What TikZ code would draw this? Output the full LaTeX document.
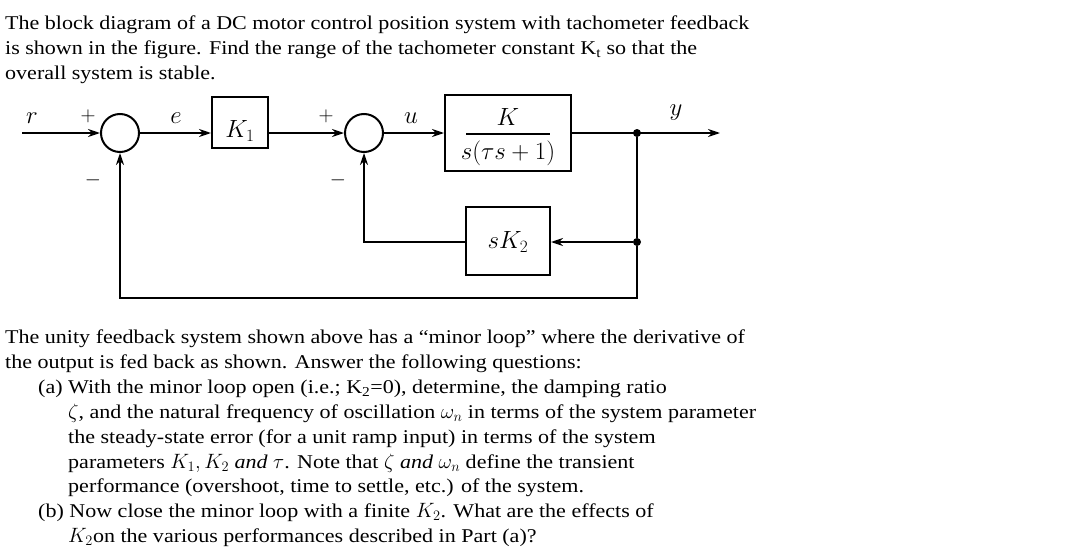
\documentclass[tikz,border=0pt]{standalone}
\usepackage{amsmath,amssymb}
\usepackage{fontspec}
\setmainfont{Liberation Serif}[FakeStretch=1.13]
\usetikzlibrary{positioning,arrows.meta}
\tikzset{
  blk/.style={draw, line width=2pt, minimum width=56pt, minimum height=51pt, inner sep=0pt},
  sumj/.style={draw, line width=2pt, circle, minimum size=38pt, inner sep=0pt},
  lbl/.style={font=\fontsize{26}{26}\selectfont\itshape},
  sgn/.style={font=\fontsize{21}{21}\selectfont},
  txt/.style={anchor=base west, inner sep=0pt, font=\fontsize{19.5}{19.5}\selectfont},
  sig/.style={line width=1.6pt, -{Stealth[length=12pt,width=8pt]}},
  dot/.style={circle, fill, inner sep=0pt, minimum size=8pt}
}
\begin{document}
\begin{tikzpicture}[x=1pt, y=-1pt]
      \useasboundingbox (0,0) rectangle (1087,554);
      % top text
      \node[txt] (t1) at (5,29) {The block diagram of a DC motor control position system with tachometer feedback};
      \node[txt] (t2) at (5,54) {is shown in the figure. Find the range of the tachometer constant K\textsubscript{t} so that the};
      \node[txt] (t3) at (5,79) {overall system is stable.};

      % blocks
      \coordinate (in) at (22,133);
      \node[sumj] (s1) at (120,133) {};
      \node[blk] (k1) at (240,122) {};
      \node[lbl] at (240,131) {$K_1$};
      \node[sumj] (s2) at (364,133) {};
      \node[blk, minimum width=126pt, minimum height=76pt] (g) at (508,133) {};
      \node[lbl] (gn) at (508,117) {$K$};
      \node[lbl] (gd) at (508,153) {$s(\tau s+1)$};
      \draw[line width=1.6pt] (466,134) -- (550,134);
      \node[blk, minimum width=84pt, minimum height=68pt] (h) at (508,241) {};
      \node[lbl] at (508,242) {$sK_2$};
      \node[dot] (d1) at (637,133) {};
      \node[dot] (d2) at (637,242) {};
      \coordinate (out) at (720,133);

      % signal labels
      \node[lbl] at (32,118) {$r$};
      \node[sgn] at (88,116) {$+$};
      \node[sgn] at (93,180) {$-$};
      \node[lbl] at (176,118) {$e$};
      \node[sgn] at (326,116) {$+$};
      \node[sgn] at (338,180) {$-$};
      \node[lbl] at (411,118) {$u$};
      \node[lbl] at (676,113) {$y$};

      % connectors
      \draw[sig] (in) -- (s1);
      \draw[sig] (s1) -- (s1 -| k1.west);
      \draw[sig] (k1.east |- s2) -- (s2);
      \draw[sig] (s2) -- (g);
      \draw[sig] (g) -- (out);
      \draw[line width=1.6pt] (d1) -- (d2);
      \draw[sig] (d2) -- (h.east |- d2);
      \draw[sig] (h.west |- d2) -| (s2);
      \draw[sig] (d2) |- (120,298) -- (s1);

      % bottom text
      \node[txt] (b1) at (5,343) {The unity feedback system shown above has a “minor loop” where the derivative of};
      \node[txt] (b2) at (5,368) {the output is fed back as shown. Answer the following questions:};
      \node[txt] (b3) at (38,393) {(a) With the minor loop open (i.e.; K\textsubscript{2}=0), determine, the damping ratio};
      \node[txt] (b4) at (68,418) {$\zeta$, and the natural frequency of oscillation $\omega_n$ in terms of the system parameter};
      \node[txt] (b5) at (68,443) {the steady-state error (for a unit ramp input) in terms of the system};
      \node[txt] (b6) at (68,468) {parameters $K_1, K_2$ \textit{and} $\tau$. Note that $\zeta$ \textit{and} $\omega_n$ define the transient};
      \node[txt] (b7) at (68,492) {performance (overshoot, time to settle, etc.) of the system.};
      \node[txt] (b8) at (38,517) {(b) Now close the minor loop with a finite $K_2$. What are the effects of};
      \node[txt] (b9) at (68,542) {$K_2$on the various performances described in Part (a)?};
\end{tikzpicture}
\end{document}
